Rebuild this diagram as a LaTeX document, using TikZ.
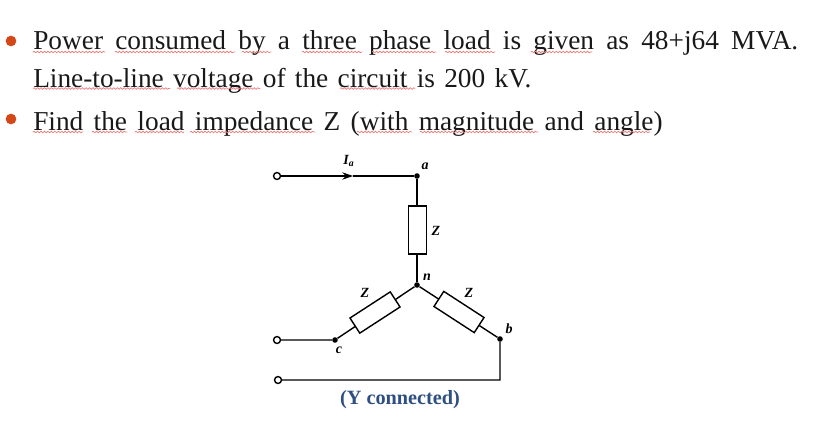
\documentclass[tikz,border=0pt]{standalone}
\usepackage{fontspec}
\setmainfont{Liberation Serif}
\usetikzlibrary{arrows.meta,decorations.pathmorphing}
\definecolor{bulletorange}{HTML}{D34817}
\definecolor{captionblue}{HTML}{2F4F80}
\definecolor{squigglered}{HTML}{F07878}
\tikzset{
    slideline/.style={anchor=base west,inner sep=0pt,font=\fontsize{20.5}{20.5}\selectfont,text=black!90},
    bulletdot/.style={circle,fill=bulletorange,inner sep=0pt,minimum size=8pt},
    squiggle/.style={squigglered,line width=0.5pt,decorate,decoration={snake,amplitude=0.6pt,segment length=2.6pt}},
    wire/.style={line width=1.05pt},
    terminal/.style={circle,draw,line width=1.05pt,fill=white,inner sep=0pt,minimum size=5.2pt},
    junction/.style={circle,fill=black,inner sep=0pt,minimum size=4.2pt},
    load/.style={rectangle,draw,line width=1.05pt,fill=white,inner sep=0pt,minimum width=36pt,minimum height=13.5pt},
    lbl/.style={inner sep=0pt,font=\fontsize{10.5}{10.5}\selectfont\itshape\bfseries}
}
\begin{document}
\begin{tikzpicture}[x=0.75pt,y=-0.75pt]
    \useasboundingbox (0,0) rectangle (837,421);
    % slide text
    \node[bulletdot] (bulletone) at (11,41) {};
    \node[bulletdot] (bullettwo) at (11,119) {};
    \node[slideline] (lineone) at (33,49.5) {\makebox[573.75pt][s]{Power consumed by a three phase load is given as 48+j64 MVA.}};
    \node[slideline] (linetwo) at (33,87.5) {\makebox[373.5pt][s]{Line-to-line voltage of the circuit is 200 kV.}};
    \node[slideline] (linethree) at (33,130) {\makebox[472pt][s]{Find the load impedance Z (with magnitude and angle)}};
    % spell check marks
    \foreach \y/\a/\b in {52/33/105,52/115/235,52/242/271,52/302/362,52/372/436,52/445/495,52/531/592,
                          88.5/33/170,88.5/177/260,88.5/340/415,
                          132/33/83,132/92/127,132/135/184,132/190/315,132/357/412,132/420/538,132/593/650}
        \draw[squiggle] (\a,\y) -- (\b,\y);
    % circuit
    \node[terminal] (ta) at (277,176) {};
    \node[terminal] (tc) at (277,340) {};
    \node[terminal] (tb) at (278,380) {};
    \node[junction] (a) at (417,176) {};
    \node[junction] (n) at (417,285) {};
    \node[junction] (c) at (335,340) {};
    \node[junction] (b) at (500,339) {};
    \coordinate (ia) at (353,176);
    \coordinate (corner) at (500,380);
    \draw[wire,-{Stealth[length=8pt,width=5.5pt]}] (ta) -- (ia);
    \draw[wire] (ia) -- (a);
    \draw[wire] (a) -- (n);
    \draw[wire] (n) -- (c) -- (tc);
    \draw[wire] (n) -- (b) -- (corner) -- (tb);
    \node[load,rotate=90] (za) at (417.5,230) {};
    \node[load,rotate=33] (zc) at (375,312.5) {};
    \node[load,rotate=-33] (zb) at (459,312) {};
    % labels
    \node[lbl] (lia) at (349,161) {I\textsubscript{a}};
    \node[lbl] (la) at (425,166) {a};
    \node[lbl] (ln) at (427,277) {n};
    \node[lbl] (lb) at (509,329) {b};
    \node[lbl] (lc) at (339,350) {c};
    \node[lbl] (lza) at (436,231) {Z};
    \node[lbl] (lzc) at (365,293) {Z};
    \node[lbl] (lzb) at (469,293) {Z};
    \node[inner sep=0pt,text=captionblue,font=\fontsize{15.2}{15.2}\selectfont\bfseries] (caption) at (400,399.5) {(Y connected)};
\end{tikzpicture}
\end{document}
